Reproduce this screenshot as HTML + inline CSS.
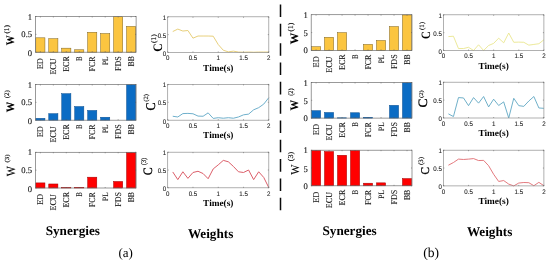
<!DOCTYPE html>
<html lang="en"><head><meta charset="utf-8"><title>Synergies and Weights</title>
<style>
html,body{margin:0;padding:0;background:#fff;}
body{width:550px;height:264px;overflow:hidden;}
svg{display:block;filter:blur(0.3px);}
text{text-rendering:geometricPrecision;}
</style></head><body>
<svg width="550" height="264" viewBox="0 0 550 264">
<rect width="550" height="264" fill="#fff"/>
<rect x="35.80" y="37.81" width="9.15" height="14.39" fill="#FBC540" stroke="#7d6220" stroke-width="0.5"/>
<rect x="48.76" y="38.71" width="9.15" height="13.49" fill="#FBC540" stroke="#7d6220" stroke-width="0.5"/>
<rect x="61.73" y="48.17" width="9.15" height="4.03" fill="#FBC540" stroke="#7d6220" stroke-width="0.5"/>
<rect x="74.69" y="49.77" width="9.15" height="2.43" fill="#FBC540" stroke="#7d6220" stroke-width="0.5"/>
<rect x="87.66" y="32.28" width="9.15" height="19.92" fill="#FBC540" stroke="#7d6220" stroke-width="0.5"/>
<rect x="100.62" y="33.53" width="9.15" height="18.67" fill="#FBC540" stroke="#7d6220" stroke-width="0.5"/>
<rect x="113.59" y="16.75" width="9.15" height="35.45" fill="#FBC540" stroke="#7d6220" stroke-width="0.5"/>
<rect x="126.55" y="26.39" width="9.15" height="25.81" fill="#FBC540" stroke="#7d6220" stroke-width="0.5"/>
<rect x="35.50" y="16.50" width="100.60" height="35.70" fill="none" stroke="#6e6e6e" stroke-width="0.7"/>
<path d="M40.38 16.50v1M40.38 52.20v-1" stroke="#555" stroke-width="0.5"/>
<path d="M53.34 16.50v1M53.34 52.20v-1" stroke="#555" stroke-width="0.5"/>
<path d="M66.30 16.50v1M66.30 52.20v-1" stroke="#555" stroke-width="0.5"/>
<path d="M79.27 16.50v1M79.27 52.20v-1" stroke="#555" stroke-width="0.5"/>
<path d="M92.23 16.50v1M92.23 52.20v-1" stroke="#555" stroke-width="0.5"/>
<path d="M105.20 16.50v1M105.20 52.20v-1" stroke="#555" stroke-width="0.5"/>
<path d="M118.16 16.50v1M118.16 52.20v-1" stroke="#555" stroke-width="0.5"/>
<path d="M131.12 16.50v1M131.12 52.20v-1" stroke="#555" stroke-width="0.5"/>
<path d="M35.50 52.20h1M136.10 52.20h-1" stroke="#555" stroke-width="0.5"/>
<path d="M35.50 34.35h1M136.10 34.35h-1" stroke="#555" stroke-width="0.5"/>
<path d="M35.50 16.50h1M136.10 16.50h-1" stroke="#555" stroke-width="0.5"/>
<text x="32.10" y="55.80" font-family='"Liberation Serif", serif' font-size="8.6" text-anchor="end" fill="#161616" stroke="#161616" stroke-width="0.12">0</text>
<text x="32.10" y="37.35" font-family='"Liberation Serif", serif' font-size="8.6" text-anchor="end" fill="#161616" stroke="#161616" stroke-width="0.12">0.5</text>
<text x="32.10" y="19.50" font-family='"Liberation Serif", serif' font-size="8.6" text-anchor="end" fill="#161616" stroke="#161616" stroke-width="0.12">1</text>
<text transform="translate(43.34 58.00) rotate(-90) scale(0.942 1)" font-family='"Liberation Serif", serif' font-size="9.0" text-anchor="end" fill="#1a1a1a" stroke="#1a1a1a" stroke-width="0.1">ED</text>
<text transform="translate(56.31 58.30) rotate(-90) scale(0.906 1)" font-family='"Liberation Serif", serif' font-size="9.0" text-anchor="end" fill="#1a1a1a" stroke="#1a1a1a" stroke-width="0.1">ECU</text>
<text transform="translate(69.27 56.10) rotate(-90) scale(0.897 1)" font-family='"Liberation Serif", serif' font-size="9.0" text-anchor="end" fill="#1a1a1a" stroke="#1a1a1a" stroke-width="0.1">ECR</text>
<text transform="translate(82.24 56.30) rotate(-90) scale(0.766 1)" font-family='"Liberation Serif", serif' font-size="9.0" text-anchor="end" fill="#1a1a1a" stroke="#1a1a1a" stroke-width="0.1">B</text>
<text transform="translate(95.20 56.40) rotate(-90) scale(0.882 1)" font-family='"Liberation Serif", serif' font-size="9.0" text-anchor="end" fill="#1a1a1a" stroke="#1a1a1a" stroke-width="0.1">FCR</text>
<text transform="translate(107.90 56.40) rotate(-90) scale(0.909 1)" font-family='"Liberation Serif", serif' font-size="8.2" text-anchor="end" fill="#1a1a1a" stroke="#1a1a1a" stroke-width="0.1">PL</text>
<text transform="translate(121.13 56.20) rotate(-90) scale(0.891 1)" font-family='"Liberation Serif", serif' font-size="9.0" text-anchor="end" fill="#1a1a1a" stroke="#1a1a1a" stroke-width="0.1">FDS</text>
<text transform="translate(134.09 56.20) rotate(-90) scale(0.858 1)" font-family='"Liberation Serif", serif' font-size="9.0" text-anchor="end" fill="#1a1a1a" stroke="#1a1a1a" stroke-width="0.1">BB</text>
<text transform="translate(14.40 45.20) rotate(-90) scale(0.865 1)" font-family='"Liberation Serif", serif' font-size="11.56" font-weight="bold" fill="#000" stroke="#000" stroke-width="0.1">W</text>
<text transform="translate(8.87 33.60) rotate(-90) scale(1.031 1)" font-family='"Liberation Serif", serif' font-size="7.16" fill="#111" stroke="#111" stroke-width="0.15">(1)</text>
<rect x="35.80" y="118.31" width="9.15" height="1.89" fill="#0B6CC4" stroke="#0a4f90" stroke-width="0.5"/>
<rect x="48.76" y="113.67" width="9.15" height="6.53" fill="#0B6CC4" stroke="#0a4f90" stroke-width="0.5"/>
<rect x="61.73" y="93.67" width="9.15" height="26.53" fill="#0B6CC4" stroke="#0a4f90" stroke-width="0.5"/>
<rect x="74.69" y="106.53" width="9.15" height="13.67" fill="#0B6CC4" stroke="#0a4f90" stroke-width="0.5"/>
<rect x="87.66" y="110.45" width="9.15" height="9.75" fill="#0B6CC4" stroke="#0a4f90" stroke-width="0.5"/>
<rect x="100.62" y="117.24" width="9.15" height="2.96" fill="#0B6CC4" stroke="#0a4f90" stroke-width="0.5"/>
<rect x="126.55" y="84.75" width="9.15" height="35.45" fill="#0B6CC4" stroke="#0a4f90" stroke-width="0.5"/>
<rect x="35.50" y="84.50" width="100.60" height="35.70" fill="none" stroke="#6e6e6e" stroke-width="0.7"/>
<path d="M40.38 84.50v1M40.38 120.20v-1" stroke="#555" stroke-width="0.5"/>
<path d="M53.34 84.50v1M53.34 120.20v-1" stroke="#555" stroke-width="0.5"/>
<path d="M66.30 84.50v1M66.30 120.20v-1" stroke="#555" stroke-width="0.5"/>
<path d="M79.27 84.50v1M79.27 120.20v-1" stroke="#555" stroke-width="0.5"/>
<path d="M92.23 84.50v1M92.23 120.20v-1" stroke="#555" stroke-width="0.5"/>
<path d="M105.20 84.50v1M105.20 120.20v-1" stroke="#555" stroke-width="0.5"/>
<path d="M118.16 84.50v1M118.16 120.20v-1" stroke="#555" stroke-width="0.5"/>
<path d="M131.12 84.50v1M131.12 120.20v-1" stroke="#555" stroke-width="0.5"/>
<path d="M35.50 120.20h1M136.10 120.20h-1" stroke="#555" stroke-width="0.5"/>
<path d="M35.50 102.35h1M136.10 102.35h-1" stroke="#555" stroke-width="0.5"/>
<path d="M35.50 84.50h1M136.10 84.50h-1" stroke="#555" stroke-width="0.5"/>
<text x="32.10" y="123.80" font-family='"Liberation Serif", serif' font-size="8.6" text-anchor="end" fill="#161616" stroke="#161616" stroke-width="0.12">0</text>
<text x="32.10" y="105.35" font-family='"Liberation Serif", serif' font-size="8.6" text-anchor="end" fill="#161616" stroke="#161616" stroke-width="0.12">0.5</text>
<text x="32.10" y="87.50" font-family='"Liberation Serif", serif' font-size="8.6" text-anchor="end" fill="#161616" stroke="#161616" stroke-width="0.12">1</text>
<text transform="translate(43.34 126.00) rotate(-90) scale(0.942 1)" font-family='"Liberation Serif", serif' font-size="9.0" text-anchor="end" fill="#1a1a1a" stroke="#1a1a1a" stroke-width="0.1">ED</text>
<text transform="translate(56.31 126.30) rotate(-90) scale(0.906 1)" font-family='"Liberation Serif", serif' font-size="9.0" text-anchor="end" fill="#1a1a1a" stroke="#1a1a1a" stroke-width="0.1">ECU</text>
<text transform="translate(69.27 124.10) rotate(-90) scale(0.897 1)" font-family='"Liberation Serif", serif' font-size="9.0" text-anchor="end" fill="#1a1a1a" stroke="#1a1a1a" stroke-width="0.1">ECR</text>
<text transform="translate(82.24 124.30) rotate(-90) scale(0.766 1)" font-family='"Liberation Serif", serif' font-size="9.0" text-anchor="end" fill="#1a1a1a" stroke="#1a1a1a" stroke-width="0.1">B</text>
<text transform="translate(95.20 124.40) rotate(-90) scale(0.882 1)" font-family='"Liberation Serif", serif' font-size="9.0" text-anchor="end" fill="#1a1a1a" stroke="#1a1a1a" stroke-width="0.1">FCR</text>
<text transform="translate(107.90 124.40) rotate(-90) scale(0.909 1)" font-family='"Liberation Serif", serif' font-size="8.2" text-anchor="end" fill="#1a1a1a" stroke="#1a1a1a" stroke-width="0.1">PL</text>
<text transform="translate(121.13 124.20) rotate(-90) scale(0.891 1)" font-family='"Liberation Serif", serif' font-size="9.0" text-anchor="end" fill="#1a1a1a" stroke="#1a1a1a" stroke-width="0.1">FDS</text>
<text transform="translate(134.09 124.20) rotate(-90) scale(0.858 1)" font-family='"Liberation Serif", serif' font-size="9.0" text-anchor="end" fill="#1a1a1a" stroke="#1a1a1a" stroke-width="0.1">BB</text>
<text transform="translate(14.40 112.30) rotate(-90) scale(0.925 1)" font-family='"Liberation Serif", serif' font-size="11.26" font-weight="bold" fill="#000" stroke="#000" stroke-width="0.1">W</text>
<text transform="translate(8.98 98.30) rotate(-90) scale(1.063 1)" font-family='"Liberation Serif", serif' font-size="6.59" fill="#111" stroke="#111" stroke-width="0.15">(2)</text>
<rect x="35.80" y="182.90" width="9.15" height="5.10" fill="#FF0000" stroke="#a00000" stroke-width="0.5"/>
<rect x="48.76" y="183.97" width="9.15" height="4.03" fill="#FF0000" stroke="#a00000" stroke-width="0.5"/>
<rect x="61.73" y="187.70" width="9.15" height="0.30" fill="#FF0000" stroke="#a00000" stroke-width="0.5"/>
<rect x="74.69" y="187.46" width="9.15" height="0.54" fill="#FF0000" stroke="#a00000" stroke-width="0.5"/>
<rect x="87.66" y="177.18" width="9.15" height="10.82" fill="#FF0000" stroke="#a00000" stroke-width="0.5"/>
<rect x="113.59" y="181.47" width="9.15" height="6.53" fill="#FF0000" stroke="#a00000" stroke-width="0.5"/>
<rect x="126.55" y="152.55" width="9.15" height="35.45" fill="#FF0000" stroke="#a00000" stroke-width="0.5"/>
<rect x="35.50" y="152.30" width="100.60" height="35.70" fill="none" stroke="#6e6e6e" stroke-width="0.7"/>
<path d="M40.38 152.30v1M40.38 188.00v-1" stroke="#555" stroke-width="0.5"/>
<path d="M53.34 152.30v1M53.34 188.00v-1" stroke="#555" stroke-width="0.5"/>
<path d="M66.30 152.30v1M66.30 188.00v-1" stroke="#555" stroke-width="0.5"/>
<path d="M79.27 152.30v1M79.27 188.00v-1" stroke="#555" stroke-width="0.5"/>
<path d="M92.23 152.30v1M92.23 188.00v-1" stroke="#555" stroke-width="0.5"/>
<path d="M105.20 152.30v1M105.20 188.00v-1" stroke="#555" stroke-width="0.5"/>
<path d="M118.16 152.30v1M118.16 188.00v-1" stroke="#555" stroke-width="0.5"/>
<path d="M131.12 152.30v1M131.12 188.00v-1" stroke="#555" stroke-width="0.5"/>
<path d="M35.50 188.00h1M136.10 188.00h-1" stroke="#555" stroke-width="0.5"/>
<path d="M35.50 170.15h1M136.10 170.15h-1" stroke="#555" stroke-width="0.5"/>
<path d="M35.50 152.30h1M136.10 152.30h-1" stroke="#555" stroke-width="0.5"/>
<text x="32.10" y="191.60" font-family='"Liberation Serif", serif' font-size="8.6" text-anchor="end" fill="#161616" stroke="#161616" stroke-width="0.12">0</text>
<text x="32.10" y="173.15" font-family='"Liberation Serif", serif' font-size="8.6" text-anchor="end" fill="#161616" stroke="#161616" stroke-width="0.12">0.5</text>
<text x="32.10" y="155.30" font-family='"Liberation Serif", serif' font-size="8.6" text-anchor="end" fill="#161616" stroke="#161616" stroke-width="0.12">1</text>
<text transform="translate(43.34 193.80) rotate(-90) scale(0.942 1)" font-family='"Liberation Serif", serif' font-size="9.0" text-anchor="end" fill="#1a1a1a" stroke="#1a1a1a" stroke-width="0.1">ED</text>
<text transform="translate(56.31 194.10) rotate(-90) scale(0.906 1)" font-family='"Liberation Serif", serif' font-size="9.0" text-anchor="end" fill="#1a1a1a" stroke="#1a1a1a" stroke-width="0.1">ECU</text>
<text transform="translate(69.27 191.90) rotate(-90) scale(0.897 1)" font-family='"Liberation Serif", serif' font-size="9.0" text-anchor="end" fill="#1a1a1a" stroke="#1a1a1a" stroke-width="0.1">ECR</text>
<text transform="translate(82.24 192.10) rotate(-90) scale(0.766 1)" font-family='"Liberation Serif", serif' font-size="9.0" text-anchor="end" fill="#1a1a1a" stroke="#1a1a1a" stroke-width="0.1">B</text>
<text transform="translate(95.20 192.20) rotate(-90) scale(0.882 1)" font-family='"Liberation Serif", serif' font-size="9.0" text-anchor="end" fill="#1a1a1a" stroke="#1a1a1a" stroke-width="0.1">FCR</text>
<text transform="translate(107.90 192.20) rotate(-90) scale(0.909 1)" font-family='"Liberation Serif", serif' font-size="8.2" text-anchor="end" fill="#1a1a1a" stroke="#1a1a1a" stroke-width="0.1">PL</text>
<text transform="translate(121.13 192.00) rotate(-90) scale(0.891 1)" font-family='"Liberation Serif", serif' font-size="9.0" text-anchor="end" fill="#1a1a1a" stroke="#1a1a1a" stroke-width="0.1">FDS</text>
<text transform="translate(134.09 192.00) rotate(-90) scale(0.858 1)" font-family='"Liberation Serif", serif' font-size="9.0" text-anchor="end" fill="#1a1a1a" stroke="#1a1a1a" stroke-width="0.1">BB</text>
<text transform="translate(15.20 176.20) rotate(-90) scale(0.860 1)" font-family='"Liberation Serif", serif' font-size="12.44" font-weight="normal" fill="#000" stroke="#000" stroke-width="0.1">W</text>
<text transform="translate(9.07 162.60) rotate(-90) scale(1.142 1)" font-family='"Liberation Serif", serif' font-size="6.14" fill="#111" stroke="#111" stroke-width="0.15">(3)</text>
<polyline points="172.75,31.54 177.81,29.08 182.87,31.04 187.92,30.51 192.97,38.16 198.03,36.02 203.09,36.02 208.14,36.02 213.19,36.20 218.25,44.57 223.31,50.26 228.36,51.87 233.42,51.15 238.47,52.04 243.53,52.22 248.58,52.04 253.64,52.22 258.69,52.04 263.75,52.04 268.80,52.04" fill="none" stroke="#E8D07C" stroke-width="1.0" stroke-linejoin="round"/>
<rect x="167.70" y="16.80" width="101.10" height="35.60" fill="none" stroke="#8f8f8f" stroke-width="0.7"/>
<path d="M167.70 16.80v1M167.70 52.40v-1" stroke="#555" stroke-width="0.5"/>
<path d="M192.97 16.80v1M192.97 52.40v-1" stroke="#555" stroke-width="0.5"/>
<path d="M218.25 16.80v1M218.25 52.40v-1" stroke="#555" stroke-width="0.5"/>
<path d="M243.53 16.80v1M243.53 52.40v-1" stroke="#555" stroke-width="0.5"/>
<path d="M268.80 16.80v1M268.80 52.40v-1" stroke="#555" stroke-width="0.5"/>
<path d="M167.70 52.40h1M268.80 52.40h-1" stroke="#555" stroke-width="0.5"/>
<path d="M167.70 34.60h1M268.80 34.60h-1" stroke="#555" stroke-width="0.5"/>
<path d="M167.70 16.80h1M268.80 16.80h-1" stroke="#555" stroke-width="0.5"/>
<text transform="translate(166.20 55.70) scale(0.93 1)" font-family='"Liberation Sans", sans-serif' font-size="6.6" text-anchor="end" fill="#222" stroke="#222" stroke-width="0.1">0</text>
<text transform="translate(166.20 37.50) scale(0.93 1)" font-family='"Liberation Sans", sans-serif' font-size="6.6" text-anchor="end" fill="#222" stroke="#222" stroke-width="0.1">0.5</text>
<text transform="translate(166.20 19.70) scale(0.93 1)" font-family='"Liberation Sans", sans-serif' font-size="6.6" text-anchor="end" fill="#222" stroke="#222" stroke-width="0.1">1</text>
<text transform="translate(167.70 60.10) scale(0.93 1)" font-family='"Liberation Sans", sans-serif' font-size="6.6" text-anchor="middle" fill="#222" stroke="#222" stroke-width="0.1">0</text>
<text transform="translate(192.97 60.10) scale(0.93 1)" font-family='"Liberation Sans", sans-serif' font-size="6.6" text-anchor="middle" fill="#222" stroke="#222" stroke-width="0.1">0.5</text>
<text transform="translate(218.25 60.10) scale(0.93 1)" font-family='"Liberation Sans", sans-serif' font-size="6.6" text-anchor="middle" fill="#222" stroke="#222" stroke-width="0.1">1</text>
<text transform="translate(243.53 60.10) scale(0.93 1)" font-family='"Liberation Sans", sans-serif' font-size="6.6" text-anchor="middle" fill="#222" stroke="#222" stroke-width="0.1">1.5</text>
<text transform="translate(268.80 60.10) scale(0.93 1)" font-family='"Liberation Sans", sans-serif' font-size="6.6" text-anchor="middle" fill="#222" stroke="#222" stroke-width="0.1">2</text>
<text x="218.25" y="70.50" font-family='"Liberation Serif", serif' font-size="9.3" font-weight="bold" text-anchor="middle" fill="#000">Time(s)</text>
<text transform="translate(162.00 51.70) rotate(-90) scale(0.897 1)" font-family='"Liberation Serif", serif' font-size="12.89" font-weight="bold" fill="#000" stroke="#000" stroke-width="0.0">C</text>
<text transform="translate(155.95 43.00) rotate(-90) scale(1.027 1)" font-family='"Liberation Serif", serif' font-size="7.27" fill="#111" stroke="#111" stroke-width="0.15">(1)</text>
<polyline points="172.75,116.26 177.81,116.98 182.87,113.58 187.92,113.40 192.97,113.76 198.03,116.08 203.09,116.26 208.14,112.86 213.19,118.41 218.25,117.69 223.31,118.23 228.36,117.69 233.42,118.23 238.47,116.98 243.53,114.83 248.58,114.11 253.64,109.82 258.69,107.67 263.75,104.09 268.80,97.65" fill="none" stroke="#6FB0CC" stroke-width="1.0" stroke-linejoin="round"/>
<rect x="167.70" y="84.40" width="101.10" height="35.80" fill="none" stroke="#8f8f8f" stroke-width="0.7"/>
<path d="M167.70 84.40v1M167.70 120.20v-1" stroke="#555" stroke-width="0.5"/>
<path d="M192.97 84.40v1M192.97 120.20v-1" stroke="#555" stroke-width="0.5"/>
<path d="M218.25 84.40v1M218.25 120.20v-1" stroke="#555" stroke-width="0.5"/>
<path d="M243.53 84.40v1M243.53 120.20v-1" stroke="#555" stroke-width="0.5"/>
<path d="M268.80 84.40v1M268.80 120.20v-1" stroke="#555" stroke-width="0.5"/>
<path d="M167.70 120.20h1M268.80 120.20h-1" stroke="#555" stroke-width="0.5"/>
<path d="M167.70 102.30h1M268.80 102.30h-1" stroke="#555" stroke-width="0.5"/>
<path d="M167.70 84.40h1M268.80 84.40h-1" stroke="#555" stroke-width="0.5"/>
<text transform="translate(166.20 123.50) scale(0.93 1)" font-family='"Liberation Sans", sans-serif' font-size="6.6" text-anchor="end" fill="#222" stroke="#222" stroke-width="0.1">0</text>
<text transform="translate(166.20 105.20) scale(0.93 1)" font-family='"Liberation Sans", sans-serif' font-size="6.6" text-anchor="end" fill="#222" stroke="#222" stroke-width="0.1">0.5</text>
<text transform="translate(166.20 87.30) scale(0.93 1)" font-family='"Liberation Sans", sans-serif' font-size="6.6" text-anchor="end" fill="#222" stroke="#222" stroke-width="0.1">1</text>
<text transform="translate(167.70 127.90) scale(0.93 1)" font-family='"Liberation Sans", sans-serif' font-size="6.6" text-anchor="middle" fill="#222" stroke="#222" stroke-width="0.1">0</text>
<text transform="translate(192.97 127.90) scale(0.93 1)" font-family='"Liberation Sans", sans-serif' font-size="6.6" text-anchor="middle" fill="#222" stroke="#222" stroke-width="0.1">0.5</text>
<text transform="translate(218.25 127.90) scale(0.93 1)" font-family='"Liberation Sans", sans-serif' font-size="6.6" text-anchor="middle" fill="#222" stroke="#222" stroke-width="0.1">1</text>
<text transform="translate(243.53 127.90) scale(0.93 1)" font-family='"Liberation Sans", sans-serif' font-size="6.6" text-anchor="middle" fill="#222" stroke="#222" stroke-width="0.1">1.5</text>
<text transform="translate(268.80 127.90) scale(0.93 1)" font-family='"Liberation Sans", sans-serif' font-size="6.6" text-anchor="middle" fill="#222" stroke="#222" stroke-width="0.1">2</text>
<text x="218.25" y="138.30" font-family='"Liberation Serif", serif' font-size="9.3" font-weight="bold" text-anchor="middle" fill="#000">Time(s)</text>
<text transform="translate(155.00 110.40) rotate(-90) scale(0.916 1)" font-family='"Liberation Serif", serif' font-size="13.33" font-weight="normal" fill="#000" stroke="#000" stroke-width="0.3">C</text>
<text transform="translate(148.13 101.80) rotate(-90) scale(1.043 1)" font-family='"Liberation Serif", serif' font-size="6.36" fill="#111" stroke="#111" stroke-width="0.15">(2)</text>
<polyline points="172.75,171.96 177.81,179.61 182.87,171.78 187.92,178.37 192.97,172.49 198.03,171.25 203.09,173.56 208.14,178.72 213.19,168.93 218.25,164.84 223.31,160.39 228.36,161.81 233.42,166.44 238.47,171.78 243.53,172.49 248.58,170.00 253.64,179.61 258.69,171.78 263.75,177.48 268.80,187.62" fill="none" stroke="#DC5F6A" stroke-width="1.0" stroke-linejoin="round"/>
<rect x="167.70" y="152.20" width="101.10" height="35.60" fill="none" stroke="#8f8f8f" stroke-width="0.7"/>
<path d="M167.70 152.20v1M167.70 187.80v-1" stroke="#555" stroke-width="0.5"/>
<path d="M192.97 152.20v1M192.97 187.80v-1" stroke="#555" stroke-width="0.5"/>
<path d="M218.25 152.20v1M218.25 187.80v-1" stroke="#555" stroke-width="0.5"/>
<path d="M243.53 152.20v1M243.53 187.80v-1" stroke="#555" stroke-width="0.5"/>
<path d="M268.80 152.20v1M268.80 187.80v-1" stroke="#555" stroke-width="0.5"/>
<path d="M167.70 187.80h1M268.80 187.80h-1" stroke="#555" stroke-width="0.5"/>
<path d="M167.70 170.00h1M268.80 170.00h-1" stroke="#555" stroke-width="0.5"/>
<path d="M167.70 152.20h1M268.80 152.20h-1" stroke="#555" stroke-width="0.5"/>
<text transform="translate(166.20 191.10) scale(0.93 1)" font-family='"Liberation Sans", sans-serif' font-size="6.6" text-anchor="end" fill="#222" stroke="#222" stroke-width="0.1">0</text>
<text transform="translate(166.20 172.90) scale(0.93 1)" font-family='"Liberation Sans", sans-serif' font-size="6.6" text-anchor="end" fill="#222" stroke="#222" stroke-width="0.1">0.5</text>
<text transform="translate(166.20 155.10) scale(0.93 1)" font-family='"Liberation Sans", sans-serif' font-size="6.6" text-anchor="end" fill="#222" stroke="#222" stroke-width="0.1">1</text>
<text transform="translate(167.70 195.50) scale(0.93 1)" font-family='"Liberation Sans", sans-serif' font-size="6.6" text-anchor="middle" fill="#222" stroke="#222" stroke-width="0.1">0</text>
<text transform="translate(192.97 195.50) scale(0.93 1)" font-family='"Liberation Sans", sans-serif' font-size="6.6" text-anchor="middle" fill="#222" stroke="#222" stroke-width="0.1">0.5</text>
<text transform="translate(218.25 195.50) scale(0.93 1)" font-family='"Liberation Sans", sans-serif' font-size="6.6" text-anchor="middle" fill="#222" stroke="#222" stroke-width="0.1">1</text>
<text transform="translate(243.53 195.50) scale(0.93 1)" font-family='"Liberation Sans", sans-serif' font-size="6.6" text-anchor="middle" fill="#222" stroke="#222" stroke-width="0.1">1.5</text>
<text transform="translate(268.80 195.50) scale(0.93 1)" font-family='"Liberation Sans", sans-serif' font-size="6.6" text-anchor="middle" fill="#222" stroke="#222" stroke-width="0.1">2</text>
<text x="218.25" y="205.90" font-family='"Liberation Serif", serif' font-size="9.3" font-weight="bold" text-anchor="middle" fill="#000">Time(s)</text>
<text transform="translate(151.80 175.30) rotate(-90) scale(0.934 1)" font-family='"Liberation Serif", serif' font-size="12.74" font-weight="normal" fill="#000" stroke="#000" stroke-width="0.3">C</text>
<text transform="translate(145.67 165.10) rotate(-90) scale(0.863 1)" font-family='"Liberation Serif", serif' font-size="7.16" fill="#111" stroke="#111" stroke-width="0.15">(3)</text>
<path d="M280.5 4.50v12.6M280.5 23.82v12.6M280.5 43.14v12.6M280.5 62.46v12.6M280.5 81.78v12.6M280.5 101.10v12.6M280.5 120.42v12.6M280.5 139.74v12.6M280.5 159.06v12.6M280.5 178.38v12.6M280.5 197.70v12.6" stroke="#0a0a0a" stroke-width="1.5"/>
<rect x="311.50" y="46.72" width="9.15" height="3.68" fill="#FBC540" stroke="#7d6220" stroke-width="0.5"/>
<rect x="324.49" y="37.26" width="9.15" height="13.14" fill="#FBC540" stroke="#7d6220" stroke-width="0.5"/>
<rect x="337.49" y="32.62" width="9.15" height="17.78" fill="#FBC540" stroke="#7d6220" stroke-width="0.5"/>
<rect x="363.47" y="44.40" width="9.15" height="6.00" fill="#FBC540" stroke="#7d6220" stroke-width="0.5"/>
<rect x="376.46" y="40.48" width="9.15" height="9.92" fill="#FBC540" stroke="#7d6220" stroke-width="0.5"/>
<rect x="389.46" y="26.55" width="9.15" height="23.85" fill="#FBC540" stroke="#7d6220" stroke-width="0.5"/>
<rect x="402.45" y="14.95" width="9.15" height="35.45" fill="#FBC540" stroke="#7d6220" stroke-width="0.5"/>
<rect x="311.20" y="14.70" width="100.80" height="35.70" fill="none" stroke="#6e6e6e" stroke-width="0.7"/>
<path d="M316.07 14.70v1M316.07 50.40v-1" stroke="#555" stroke-width="0.5"/>
<path d="M329.07 14.70v1M329.07 50.40v-1" stroke="#555" stroke-width="0.5"/>
<path d="M342.06 14.70v1M342.06 50.40v-1" stroke="#555" stroke-width="0.5"/>
<path d="M355.05 14.70v1M355.05 50.40v-1" stroke="#555" stroke-width="0.5"/>
<path d="M368.05 14.70v1M368.05 50.40v-1" stroke="#555" stroke-width="0.5"/>
<path d="M381.04 14.70v1M381.04 50.40v-1" stroke="#555" stroke-width="0.5"/>
<path d="M394.03 14.70v1M394.03 50.40v-1" stroke="#555" stroke-width="0.5"/>
<path d="M407.03 14.70v1M407.03 50.40v-1" stroke="#555" stroke-width="0.5"/>
<path d="M311.20 50.40h1M412.00 50.40h-1" stroke="#555" stroke-width="0.5"/>
<path d="M311.20 32.55h1M412.00 32.55h-1" stroke="#555" stroke-width="0.5"/>
<path d="M311.20 14.70h1M412.00 14.70h-1" stroke="#555" stroke-width="0.5"/>
<text x="307.80" y="53.40" font-family='"Liberation Serif", serif' font-size="8.6" text-anchor="end" fill="#161616" stroke="#161616" stroke-width="0.12">0</text>
<text x="307.80" y="36.05" font-family='"Liberation Serif", serif' font-size="8.6" text-anchor="end" fill="#161616" stroke="#161616" stroke-width="0.12">5</text>
<text x="307.80" y="17.70" font-family='"Liberation Serif", serif' font-size="8.6" text-anchor="end" fill="#161616" stroke="#161616" stroke-width="0.12">1</text>
<text transform="translate(319.05 56.20) rotate(-90) scale(0.942 1)" font-family='"Liberation Serif", serif' font-size="9.0" text-anchor="end" fill="#1a1a1a" stroke="#1a1a1a" stroke-width="0.1">ED</text>
<text transform="translate(332.04 56.50) rotate(-90) scale(0.906 1)" font-family='"Liberation Serif", serif' font-size="9.0" text-anchor="end" fill="#1a1a1a" stroke="#1a1a1a" stroke-width="0.1">ECU</text>
<text transform="translate(345.03 54.30) rotate(-90) scale(0.897 1)" font-family='"Liberation Serif", serif' font-size="9.0" text-anchor="end" fill="#1a1a1a" stroke="#1a1a1a" stroke-width="0.1">ECR</text>
<text transform="translate(358.02 54.50) rotate(-90) scale(0.766 1)" font-family='"Liberation Serif", serif' font-size="9.0" text-anchor="end" fill="#1a1a1a" stroke="#1a1a1a" stroke-width="0.1">B</text>
<text transform="translate(371.02 54.60) rotate(-90) scale(0.882 1)" font-family='"Liberation Serif", serif' font-size="9.0" text-anchor="end" fill="#1a1a1a" stroke="#1a1a1a" stroke-width="0.1">FCR</text>
<text transform="translate(383.75 54.60) rotate(-90) scale(0.909 1)" font-family='"Liberation Serif", serif' font-size="8.2" text-anchor="end" fill="#1a1a1a" stroke="#1a1a1a" stroke-width="0.1">PL</text>
<text transform="translate(397.00 54.40) rotate(-90) scale(0.891 1)" font-family='"Liberation Serif", serif' font-size="9.0" text-anchor="end" fill="#1a1a1a" stroke="#1a1a1a" stroke-width="0.1">FDS</text>
<text transform="translate(410.00 54.40) rotate(-90) scale(0.858 1)" font-family='"Liberation Serif", serif' font-size="9.0" text-anchor="end" fill="#1a1a1a" stroke="#1a1a1a" stroke-width="0.1">BB</text>
<text transform="translate(297.90 44.30) rotate(-90) scale(1.012 1)" font-family='"Liberation Serif", serif' font-size="11.41" font-weight="bold" fill="#000" stroke="#000" stroke-width="0.1">W</text>
<text transform="translate(292.90 31.40) rotate(-90) scale(0.984 1)" font-family='"Liberation Serif", serif' font-size="7.50" fill="#111" stroke="#111" stroke-width="0.15">(1)</text>
<rect x="311.50" y="110.66" width="9.15" height="7.44" fill="#0B6CC4" stroke="#0a4f90" stroke-width="0.5"/>
<rect x="324.49" y="112.48" width="9.15" height="5.62" fill="#0B6CC4" stroke="#0a4f90" stroke-width="0.5"/>
<rect x="337.49" y="117.80" width="9.15" height="0.30" fill="#0B6CC4" stroke="#0a4f90" stroke-width="0.5"/>
<rect x="350.48" y="112.76" width="9.15" height="5.34" fill="#0B6CC4" stroke="#0a4f90" stroke-width="0.5"/>
<rect x="363.47" y="117.28" width="9.15" height="0.82" fill="#0B6CC4" stroke="#0a4f90" stroke-width="0.5"/>
<rect x="389.46" y="105.32" width="9.15" height="12.78" fill="#0B6CC4" stroke="#0a4f90" stroke-width="0.5"/>
<rect x="402.45" y="82.75" width="9.15" height="35.35" fill="#0B6CC4" stroke="#0a4f90" stroke-width="0.5"/>
<rect x="311.20" y="82.50" width="100.80" height="35.60" fill="none" stroke="#6e6e6e" stroke-width="0.7"/>
<path d="M316.07 82.50v1M316.07 118.10v-1" stroke="#555" stroke-width="0.5"/>
<path d="M329.07 82.50v1M329.07 118.10v-1" stroke="#555" stroke-width="0.5"/>
<path d="M342.06 82.50v1M342.06 118.10v-1" stroke="#555" stroke-width="0.5"/>
<path d="M355.05 82.50v1M355.05 118.10v-1" stroke="#555" stroke-width="0.5"/>
<path d="M368.05 82.50v1M368.05 118.10v-1" stroke="#555" stroke-width="0.5"/>
<path d="M381.04 82.50v1M381.04 118.10v-1" stroke="#555" stroke-width="0.5"/>
<path d="M394.03 82.50v1M394.03 118.10v-1" stroke="#555" stroke-width="0.5"/>
<path d="M407.03 82.50v1M407.03 118.10v-1" stroke="#555" stroke-width="0.5"/>
<path d="M311.20 118.10h1M412.00 118.10h-1" stroke="#555" stroke-width="0.5"/>
<path d="M311.20 100.30h1M412.00 100.30h-1" stroke="#555" stroke-width="0.5"/>
<path d="M311.20 82.50h1M412.00 82.50h-1" stroke="#555" stroke-width="0.5"/>
<text x="307.80" y="121.10" font-family='"Liberation Serif", serif' font-size="8.6" text-anchor="end" fill="#161616" stroke="#161616" stroke-width="0.12">0</text>
<text x="307.80" y="103.80" font-family='"Liberation Serif", serif' font-size="8.6" text-anchor="end" fill="#161616" stroke="#161616" stroke-width="0.12">5</text>
<text x="307.80" y="85.50" font-family='"Liberation Serif", serif' font-size="8.6" text-anchor="end" fill="#161616" stroke="#161616" stroke-width="0.12">1</text>
<text transform="translate(319.05 123.90) rotate(-90) scale(0.942 1)" font-family='"Liberation Serif", serif' font-size="9.0" text-anchor="end" fill="#1a1a1a" stroke="#1a1a1a" stroke-width="0.1">ED</text>
<text transform="translate(332.04 124.20) rotate(-90) scale(0.906 1)" font-family='"Liberation Serif", serif' font-size="9.0" text-anchor="end" fill="#1a1a1a" stroke="#1a1a1a" stroke-width="0.1">ECU</text>
<text transform="translate(345.03 122.00) rotate(-90) scale(0.897 1)" font-family='"Liberation Serif", serif' font-size="9.0" text-anchor="end" fill="#1a1a1a" stroke="#1a1a1a" stroke-width="0.1">ECR</text>
<text transform="translate(358.02 122.20) rotate(-90) scale(0.766 1)" font-family='"Liberation Serif", serif' font-size="9.0" text-anchor="end" fill="#1a1a1a" stroke="#1a1a1a" stroke-width="0.1">B</text>
<text transform="translate(371.02 122.30) rotate(-90) scale(0.882 1)" font-family='"Liberation Serif", serif' font-size="9.0" text-anchor="end" fill="#1a1a1a" stroke="#1a1a1a" stroke-width="0.1">FCR</text>
<text transform="translate(383.75 122.30) rotate(-90) scale(0.909 1)" font-family='"Liberation Serif", serif' font-size="8.2" text-anchor="end" fill="#1a1a1a" stroke="#1a1a1a" stroke-width="0.1">PL</text>
<text transform="translate(397.00 122.10) rotate(-90) scale(0.891 1)" font-family='"Liberation Serif", serif' font-size="9.0" text-anchor="end" fill="#1a1a1a" stroke="#1a1a1a" stroke-width="0.1">FDS</text>
<text transform="translate(410.00 122.10) rotate(-90) scale(0.858 1)" font-family='"Liberation Serif", serif' font-size="9.0" text-anchor="end" fill="#1a1a1a" stroke="#1a1a1a" stroke-width="0.1">BB</text>
<text transform="translate(297.90 110.50) rotate(-90) scale(0.931 1)" font-family='"Liberation Serif", serif' font-size="11.41" font-weight="bold" fill="#000" stroke="#000" stroke-width="0.1">W</text>
<text transform="translate(292.81 95.80) rotate(-90) scale(0.905 1)" font-family='"Liberation Serif", serif' font-size="6.93" fill="#111" stroke="#111" stroke-width="0.15">(2)</text>
<rect x="311.50" y="150.45" width="9.15" height="35.35" fill="#FF0000" stroke="#a00000" stroke-width="0.5"/>
<rect x="324.49" y="151.52" width="9.15" height="34.28" fill="#FF0000" stroke="#a00000" stroke-width="0.5"/>
<rect x="337.49" y="155.26" width="9.15" height="30.54" fill="#FF0000" stroke="#a00000" stroke-width="0.5"/>
<rect x="350.48" y="150.45" width="9.15" height="35.35" fill="#FF0000" stroke="#a00000" stroke-width="0.5"/>
<rect x="363.47" y="183.20" width="9.15" height="2.60" fill="#FF0000" stroke="#a00000" stroke-width="0.5"/>
<rect x="376.46" y="182.85" width="9.15" height="2.95" fill="#FF0000" stroke="#a00000" stroke-width="0.5"/>
<rect x="402.45" y="178.57" width="9.15" height="7.23" fill="#FF0000" stroke="#a00000" stroke-width="0.5"/>
<rect x="311.20" y="150.20" width="100.80" height="35.60" fill="none" stroke="#6e6e6e" stroke-width="0.7"/>
<path d="M316.07 150.20v1M316.07 185.80v-1" stroke="#555" stroke-width="0.5"/>
<path d="M329.07 150.20v1M329.07 185.80v-1" stroke="#555" stroke-width="0.5"/>
<path d="M342.06 150.20v1M342.06 185.80v-1" stroke="#555" stroke-width="0.5"/>
<path d="M355.05 150.20v1M355.05 185.80v-1" stroke="#555" stroke-width="0.5"/>
<path d="M368.05 150.20v1M368.05 185.80v-1" stroke="#555" stroke-width="0.5"/>
<path d="M381.04 150.20v1M381.04 185.80v-1" stroke="#555" stroke-width="0.5"/>
<path d="M394.03 150.20v1M394.03 185.80v-1" stroke="#555" stroke-width="0.5"/>
<path d="M407.03 150.20v1M407.03 185.80v-1" stroke="#555" stroke-width="0.5"/>
<path d="M311.20 185.80h1M412.00 185.80h-1" stroke="#555" stroke-width="0.5"/>
<path d="M311.20 168.00h1M412.00 168.00h-1" stroke="#555" stroke-width="0.5"/>
<path d="M311.20 150.20h1M412.00 150.20h-1" stroke="#555" stroke-width="0.5"/>
<text x="307.80" y="188.80" font-family='"Liberation Serif", serif' font-size="8.6" text-anchor="end" fill="#161616" stroke="#161616" stroke-width="0.12">0</text>
<text x="307.80" y="171.50" font-family='"Liberation Serif", serif' font-size="8.6" text-anchor="end" fill="#161616" stroke="#161616" stroke-width="0.12">5</text>
<text x="307.80" y="153.20" font-family='"Liberation Serif", serif' font-size="8.6" text-anchor="end" fill="#161616" stroke="#161616" stroke-width="0.12">1</text>
<text transform="translate(319.05 191.60) rotate(-90) scale(0.942 1)" font-family='"Liberation Serif", serif' font-size="9.0" text-anchor="end" fill="#1a1a1a" stroke="#1a1a1a" stroke-width="0.1">ED</text>
<text transform="translate(332.04 191.90) rotate(-90) scale(0.906 1)" font-family='"Liberation Serif", serif' font-size="9.0" text-anchor="end" fill="#1a1a1a" stroke="#1a1a1a" stroke-width="0.1">ECU</text>
<text transform="translate(345.03 189.70) rotate(-90) scale(0.897 1)" font-family='"Liberation Serif", serif' font-size="9.0" text-anchor="end" fill="#1a1a1a" stroke="#1a1a1a" stroke-width="0.1">ECR</text>
<text transform="translate(358.02 189.90) rotate(-90) scale(0.766 1)" font-family='"Liberation Serif", serif' font-size="9.0" text-anchor="end" fill="#1a1a1a" stroke="#1a1a1a" stroke-width="0.1">B</text>
<text transform="translate(371.02 190.00) rotate(-90) scale(0.882 1)" font-family='"Liberation Serif", serif' font-size="9.0" text-anchor="end" fill="#1a1a1a" stroke="#1a1a1a" stroke-width="0.1">FCR</text>
<text transform="translate(383.75 190.00) rotate(-90) scale(0.909 1)" font-family='"Liberation Serif", serif' font-size="8.2" text-anchor="end" fill="#1a1a1a" stroke="#1a1a1a" stroke-width="0.1">PL</text>
<text transform="translate(397.00 189.80) rotate(-90) scale(0.891 1)" font-family='"Liberation Serif", serif' font-size="9.0" text-anchor="end" fill="#1a1a1a" stroke="#1a1a1a" stroke-width="0.1">FDS</text>
<text transform="translate(410.00 189.80) rotate(-90) scale(0.858 1)" font-family='"Liberation Serif", serif' font-size="9.0" text-anchor="end" fill="#1a1a1a" stroke="#1a1a1a" stroke-width="0.1">BB</text>
<text transform="translate(298.90 174.70) rotate(-90) scale(0.901 1)" font-family='"Liberation Serif", serif' font-size="12.00" font-weight="normal" fill="#000" stroke="#000" stroke-width="0.1">W</text>
<text transform="translate(292.50 161.20) rotate(-90) scale(1.070 1)" font-family='"Liberation Serif", serif' font-size="7.50" fill="#111" stroke="#111" stroke-width="0.15">(3)</text>
<polyline points="448.42,36.58 453.45,36.22 458.47,48.54 463.50,48.54 468.52,47.29 473.55,50.50 478.57,44.79 483.60,50.50 488.62,45.50 493.65,43.36 498.67,38.18 503.70,42.82 508.72,33.01 513.75,42.29 518.77,42.11 523.80,42.29 528.83,45.14 533.85,44.43 538.88,43.72 543.90,39.79" fill="none" stroke="#E9E68C" stroke-width="0.88" stroke-linejoin="round"/>
<rect x="443.40" y="14.80" width="100.50" height="35.70" fill="none" stroke="#8f8f8f" stroke-width="0.7"/>
<path d="M443.40 14.80v1M443.40 50.50v-1" stroke="#555" stroke-width="0.5"/>
<path d="M468.52 14.80v1M468.52 50.50v-1" stroke="#555" stroke-width="0.5"/>
<path d="M493.65 14.80v1M493.65 50.50v-1" stroke="#555" stroke-width="0.5"/>
<path d="M518.77 14.80v1M518.77 50.50v-1" stroke="#555" stroke-width="0.5"/>
<path d="M543.90 14.80v1M543.90 50.50v-1" stroke="#555" stroke-width="0.5"/>
<path d="M443.40 50.50h1M543.90 50.50h-1" stroke="#555" stroke-width="0.5"/>
<path d="M443.40 32.65h1M543.90 32.65h-1" stroke="#555" stroke-width="0.5"/>
<path d="M443.40 14.80h1M543.90 14.80h-1" stroke="#555" stroke-width="0.5"/>
<text transform="translate(441.90 53.80) scale(0.93 1)" font-family='"Liberation Sans", sans-serif' font-size="6.6" text-anchor="end" fill="#222" stroke="#222" stroke-width="0.1">0</text>
<text transform="translate(441.90 35.55) scale(0.93 1)" font-family='"Liberation Sans", sans-serif' font-size="6.6" text-anchor="end" fill="#222" stroke="#222" stroke-width="0.1">0.5</text>
<text transform="translate(441.90 17.70) scale(0.93 1)" font-family='"Liberation Sans", sans-serif' font-size="6.6" text-anchor="end" fill="#222" stroke="#222" stroke-width="0.1">1</text>
<text transform="translate(443.40 58.20) scale(0.93 1)" font-family='"Liberation Sans", sans-serif' font-size="6.6" text-anchor="middle" fill="#222" stroke="#222" stroke-width="0.1">0</text>
<text transform="translate(468.52 58.20) scale(0.93 1)" font-family='"Liberation Sans", sans-serif' font-size="6.6" text-anchor="middle" fill="#222" stroke="#222" stroke-width="0.1">0.5</text>
<text transform="translate(493.65 58.20) scale(0.93 1)" font-family='"Liberation Sans", sans-serif' font-size="6.6" text-anchor="middle" fill="#222" stroke="#222" stroke-width="0.1">1</text>
<text transform="translate(518.77 58.20) scale(0.93 1)" font-family='"Liberation Sans", sans-serif' font-size="6.6" text-anchor="middle" fill="#222" stroke="#222" stroke-width="0.1">1.5</text>
<text transform="translate(543.90 58.20) scale(0.93 1)" font-family='"Liberation Sans", sans-serif' font-size="6.6" text-anchor="middle" fill="#222" stroke="#222" stroke-width="0.1">2</text>
<text x="493.65" y="68.60" font-family='"Liberation Serif", serif' font-size="9.3" font-weight="bold" text-anchor="middle" fill="#000">Time(s)</text>
<text transform="translate(430.00 38.90) rotate(-90) scale(0.852 1)" font-family='"Liberation Serif", serif' font-size="12.74" font-weight="bold" fill="#000" stroke="#000" stroke-width="0.0">C</text>
<text transform="translate(423.94 30.10) rotate(-90) scale(1.014 1)" font-family='"Liberation Serif", serif' font-size="6.82" fill="#111" stroke="#111" stroke-width="0.15">(1)</text>
<polyline points="448.42,113.88 453.45,116.57 458.47,97.59 463.50,97.95 468.52,105.65 473.55,97.59 478.57,103.14 483.60,96.52 488.62,106.90 493.65,99.20 498.67,105.47 503.70,101.89 508.72,118.00 513.75,98.31 518.77,105.65 523.80,106.36 528.83,101.00 533.85,96.52 538.88,107.98 543.90,108.33" fill="none" stroke="#5CA5C2" stroke-width="0.88" stroke-linejoin="round"/>
<rect x="443.40" y="82.20" width="100.50" height="35.80" fill="none" stroke="#8f8f8f" stroke-width="0.7"/>
<path d="M443.40 82.20v1M443.40 118.00v-1" stroke="#555" stroke-width="0.5"/>
<path d="M468.52 82.20v1M468.52 118.00v-1" stroke="#555" stroke-width="0.5"/>
<path d="M493.65 82.20v1M493.65 118.00v-1" stroke="#555" stroke-width="0.5"/>
<path d="M518.77 82.20v1M518.77 118.00v-1" stroke="#555" stroke-width="0.5"/>
<path d="M543.90 82.20v1M543.90 118.00v-1" stroke="#555" stroke-width="0.5"/>
<path d="M443.40 118.00h1M543.90 118.00h-1" stroke="#555" stroke-width="0.5"/>
<path d="M443.40 100.10h1M543.90 100.10h-1" stroke="#555" stroke-width="0.5"/>
<path d="M443.40 82.20h1M543.90 82.20h-1" stroke="#555" stroke-width="0.5"/>
<text transform="translate(441.90 121.30) scale(0.93 1)" font-family='"Liberation Sans", sans-serif' font-size="6.6" text-anchor="end" fill="#222" stroke="#222" stroke-width="0.1">0</text>
<text transform="translate(441.90 103.00) scale(0.93 1)" font-family='"Liberation Sans", sans-serif' font-size="6.6" text-anchor="end" fill="#222" stroke="#222" stroke-width="0.1">0.5</text>
<text transform="translate(441.90 85.10) scale(0.93 1)" font-family='"Liberation Sans", sans-serif' font-size="6.6" text-anchor="end" fill="#222" stroke="#222" stroke-width="0.1">1</text>
<text transform="translate(443.40 125.70) scale(0.93 1)" font-family='"Liberation Sans", sans-serif' font-size="6.6" text-anchor="middle" fill="#222" stroke="#222" stroke-width="0.1">0</text>
<text transform="translate(468.52 125.70) scale(0.93 1)" font-family='"Liberation Sans", sans-serif' font-size="6.6" text-anchor="middle" fill="#222" stroke="#222" stroke-width="0.1">0.5</text>
<text transform="translate(493.65 125.70) scale(0.93 1)" font-family='"Liberation Sans", sans-serif' font-size="6.6" text-anchor="middle" fill="#222" stroke="#222" stroke-width="0.1">1</text>
<text transform="translate(518.77 125.70) scale(0.93 1)" font-family='"Liberation Sans", sans-serif' font-size="6.6" text-anchor="middle" fill="#222" stroke="#222" stroke-width="0.1">1.5</text>
<text transform="translate(543.90 125.70) scale(0.93 1)" font-family='"Liberation Sans", sans-serif' font-size="6.6" text-anchor="middle" fill="#222" stroke="#222" stroke-width="0.1">2</text>
<text x="493.65" y="136.10" font-family='"Liberation Serif", serif' font-size="9.3" font-weight="bold" text-anchor="middle" fill="#000">Time(s)</text>
<text transform="translate(426.60 107.60) rotate(-90) scale(1.055 1)" font-family='"Liberation Serif", serif' font-size="12.74" font-weight="normal" fill="#000" stroke="#000" stroke-width="0.3">C</text>
<text transform="translate(422.91 98.10) rotate(-90) scale(1.234 1)" font-family='"Liberation Serif", serif' font-size="5.45" fill="#111" stroke="#111" stroke-width="0.15">(2)</text>
<polyline points="448.42,165.19 453.45,162.52 458.47,159.12 463.50,159.48 468.52,159.12 473.55,158.59 478.57,160.55 483.60,160.37 488.62,165.73 493.65,174.30 498.67,181.44 503.70,180.55 508.72,184.12 513.75,185.90 518.77,183.04 523.80,182.51 528.83,182.69 533.85,185.72 538.88,182.33 543.90,185.72" fill="none" stroke="#DF666C" stroke-width="0.88" stroke-linejoin="round"/>
<rect x="443.40" y="150.20" width="100.50" height="35.70" fill="none" stroke="#8f8f8f" stroke-width="0.7"/>
<path d="M443.40 150.20v1M443.40 185.90v-1" stroke="#555" stroke-width="0.5"/>
<path d="M468.52 150.20v1M468.52 185.90v-1" stroke="#555" stroke-width="0.5"/>
<path d="M493.65 150.20v1M493.65 185.90v-1" stroke="#555" stroke-width="0.5"/>
<path d="M518.77 150.20v1M518.77 185.90v-1" stroke="#555" stroke-width="0.5"/>
<path d="M543.90 150.20v1M543.90 185.90v-1" stroke="#555" stroke-width="0.5"/>
<path d="M443.40 185.90h1M543.90 185.90h-1" stroke="#555" stroke-width="0.5"/>
<path d="M443.40 168.05h1M543.90 168.05h-1" stroke="#555" stroke-width="0.5"/>
<path d="M443.40 150.20h1M543.90 150.20h-1" stroke="#555" stroke-width="0.5"/>
<text transform="translate(441.90 189.20) scale(0.93 1)" font-family='"Liberation Sans", sans-serif' font-size="6.6" text-anchor="end" fill="#222" stroke="#222" stroke-width="0.1">0</text>
<text transform="translate(441.90 170.95) scale(0.93 1)" font-family='"Liberation Sans", sans-serif' font-size="6.6" text-anchor="end" fill="#222" stroke="#222" stroke-width="0.1">0.5</text>
<text transform="translate(441.90 153.10) scale(0.93 1)" font-family='"Liberation Sans", sans-serif' font-size="6.6" text-anchor="end" fill="#222" stroke="#222" stroke-width="0.1">1</text>
<text transform="translate(443.40 193.60) scale(0.93 1)" font-family='"Liberation Sans", sans-serif' font-size="6.6" text-anchor="middle" fill="#222" stroke="#222" stroke-width="0.1">0</text>
<text transform="translate(468.52 193.60) scale(0.93 1)" font-family='"Liberation Sans", sans-serif' font-size="6.6" text-anchor="middle" fill="#222" stroke="#222" stroke-width="0.1">0.5</text>
<text transform="translate(493.65 193.60) scale(0.93 1)" font-family='"Liberation Sans", sans-serif' font-size="6.6" text-anchor="middle" fill="#222" stroke="#222" stroke-width="0.1">1</text>
<text transform="translate(518.77 193.60) scale(0.93 1)" font-family='"Liberation Sans", sans-serif' font-size="6.6" text-anchor="middle" fill="#222" stroke="#222" stroke-width="0.1">1.5</text>
<text transform="translate(543.90 193.60) scale(0.93 1)" font-family='"Liberation Sans", sans-serif' font-size="6.6" text-anchor="middle" fill="#222" stroke="#222" stroke-width="0.1">2</text>
<text x="493.65" y="204.00" font-family='"Liberation Serif", serif' font-size="9.3" font-weight="bold" text-anchor="middle" fill="#000">Time(s)</text>
<text transform="translate(428.80 174.60) rotate(-90) scale(0.952 1)" font-family='"Liberation Serif", serif' font-size="11.85" font-weight="normal" fill="#000" stroke="#000" stroke-width="0.3">C</text>
<text transform="translate(422.86 165.00) rotate(-90) scale(1.045 1)" font-family='"Liberation Serif", serif' font-size="6.70" fill="#111" stroke="#111" stroke-width="0.15">(3)</text>
<text x="45.7" y="234.6" font-family='"Liberation Serif", serif' font-size="13.2" font-weight="bold" fill="#000">Synergies</text>
<text x="187.9" y="238.3" font-family='"Liberation Serif", serif' font-size="13.2" font-weight="bold" fill="#000">Weights</text>
<text x="322.5" y="235.0" font-family='"Liberation Serif", serif' font-size="13.2" font-weight="bold" fill="#000">Synergies</text>
<text x="466.9" y="236.2" font-family='"Liberation Serif", serif' font-size="13.2" font-weight="bold" fill="#000">Weights</text>
<text x="118.4" y="256.5" font-family='"Liberation Serif", serif' font-size="13" font-weight="normal" fill="#000">(a)</text>
<text x="423.3" y="256.9" font-family='"Liberation Serif", serif' font-size="13.6" font-weight="normal" fill="#000">(b)</text>
</svg>
</body></html>
